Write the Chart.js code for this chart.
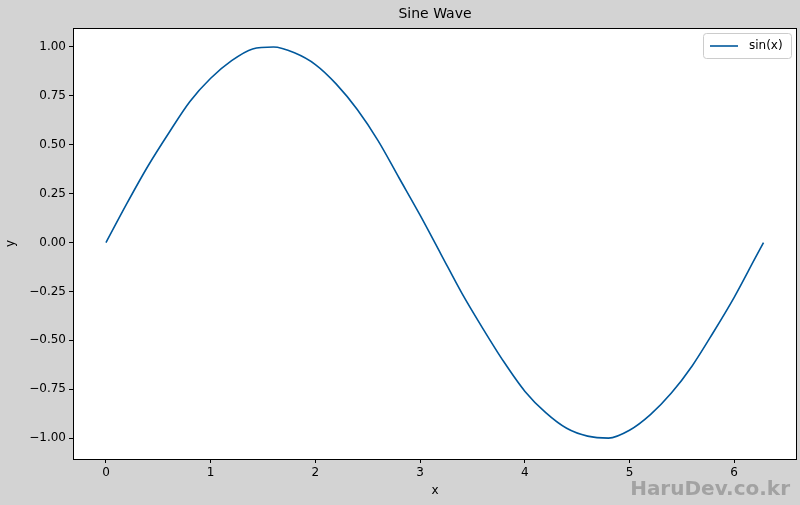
<!DOCTYPE html>
<html><head><meta charset="utf-8">
<script src="https://cdn.jsdelivr.net/npm/chart.js@4"></script>
<style>html,body{margin:0;padding:0;background:#d3d3d3}#c{display:block}</style>
</head><body>
<div style="width:800px;height:505px"><canvas id="c" width="800" height="505"></canvas></div>
<script>
const xValues=[0,0.2,0.4,0.6,0.8,1.0,1.2,1.4,1.6,1.8,2.0,2.2,2.4,2.6,2.8,3.0,3.2,3.4,3.6,3.8,4.0,4.2,4.4,4.6,4.8,5.0,5.2,5.4,5.6,5.8,6.0,6.2,6.28];
const yValues=[0,0.20,0.39,0.56,0.72,0.84,0.93,0.99,1.00,0.97,0.91,0.81,0.68,0.52,0.33,0.14,-0.06,-0.26,-0.44,-0.61,-0.76,-0.87,-0.95,-0.99,-1.00,-0.96,-0.88,-0.77,-0.63,-0.46,-0.28,-0.08,0.00];
const xTicks=[0,1,2,3,4,5,6];
const yTicks=[-1,-0.75,-0.5,-0.25,0,0.25,0.5,0.75,1];
const F='"DejaVu Sans", sans-serif';
const deco={id:'deco',
 beforeDraw(c){const x=c.ctx;x.save();x.fillStyle='#d3d3d3';x.fillRect(0,0,800,505);const a=c.chartArea;x.fillStyle='#fff';x.fillRect(a.left,a.top,a.right-a.left,a.bottom-a.top);x.restore();},
 afterDraw(c){const x=c.ctx,a=c.chartArea;x.save();x.strokeStyle='#000';x.lineWidth=1;x.strokeRect(a.left+0.5,a.top+0.5,a.right-a.left-1,a.bottom-a.top);
  x.fillStyle='#000';x.font='14px '+F;x.textAlign='center';x.textBaseline='middle';x.fillText('Sine Wave',(a.left+a.right)/2,14);
  x.font='12px '+F;x.fillText('x',(a.left+a.right)/2,491);
  x.translate(11,(a.top+a.bottom)/2);x.rotate(-Math.PI/2);x.fillText('y',0,0);x.setTransform(c.currentDevicePixelRatio,0,0,c.currentDevicePixelRatio,0,0);
  x.fillStyle='#fff';x.strokeStyle='#ccc';x.beginPath();x.roundRect(703.5,33.5,88,25,3);x.fill();x.stroke();
  x.strokeStyle='#00589c';x.lineWidth=1.6;x.beginPath();x.moveTo(710,46);x.lineTo(738,46);x.stroke();
  x.fillStyle='#000';x.textAlign='left';x.fillText('sin(x)',749,46);
  x.font='bold 20px '+F;x.fillStyle='rgba(150,150,150,0.8)';x.textAlign='right';x.fillText('HaruDev.co.kr',790,490);
  x.restore();}};
new Chart(document.getElementById('c'),{type:'line',
 data:{datasets:[{label:'sin(x)',data:xValues.map((v,i)=>({x:v,y:yValues[i]})),borderColor:'#00589c',borderWidth:1.6,pointRadius:0,cubicInterpolationMode:'monotone',fill:false}]},
 options:{responsive:false,animation:false,layout:{padding:{top:28,right:3,left:0,bottom:0}},
  plugins:{legend:{display:false},title:{display:false},tooltip:{enabled:false}},
  scales:{
   x:{type:'linear',min:-0.315,max:6.60,afterBuildTicks(s){s.ticks=xTicks.map(v=>({value:v}));},afterFit(s){s.height=46;},
      grid:{drawOnChartArea:false,tickLength:4,color:'#000'},border:{display:false},
      ticks:{color:'#000',font:{family:F,size:12},padding:3,maxRotation:0,callback:v=>String(v)}},
   y:{min:-1.107,max:1.097,afterBuildTicks(s){s.ticks=yTicks.map(v=>({value:v}));},afterFit(s){s.width=73;},
      grid:{drawOnChartArea:false,tickLength:4,color:'#000'},border:{display:false},
      ticks:{color:'#000',font:{family:F,size:12},padding:3,callback:v=>(v<0?'−':'')+Math.abs(v).toFixed(2)}}}},
 plugins:[deco]});
</script></body></html>
